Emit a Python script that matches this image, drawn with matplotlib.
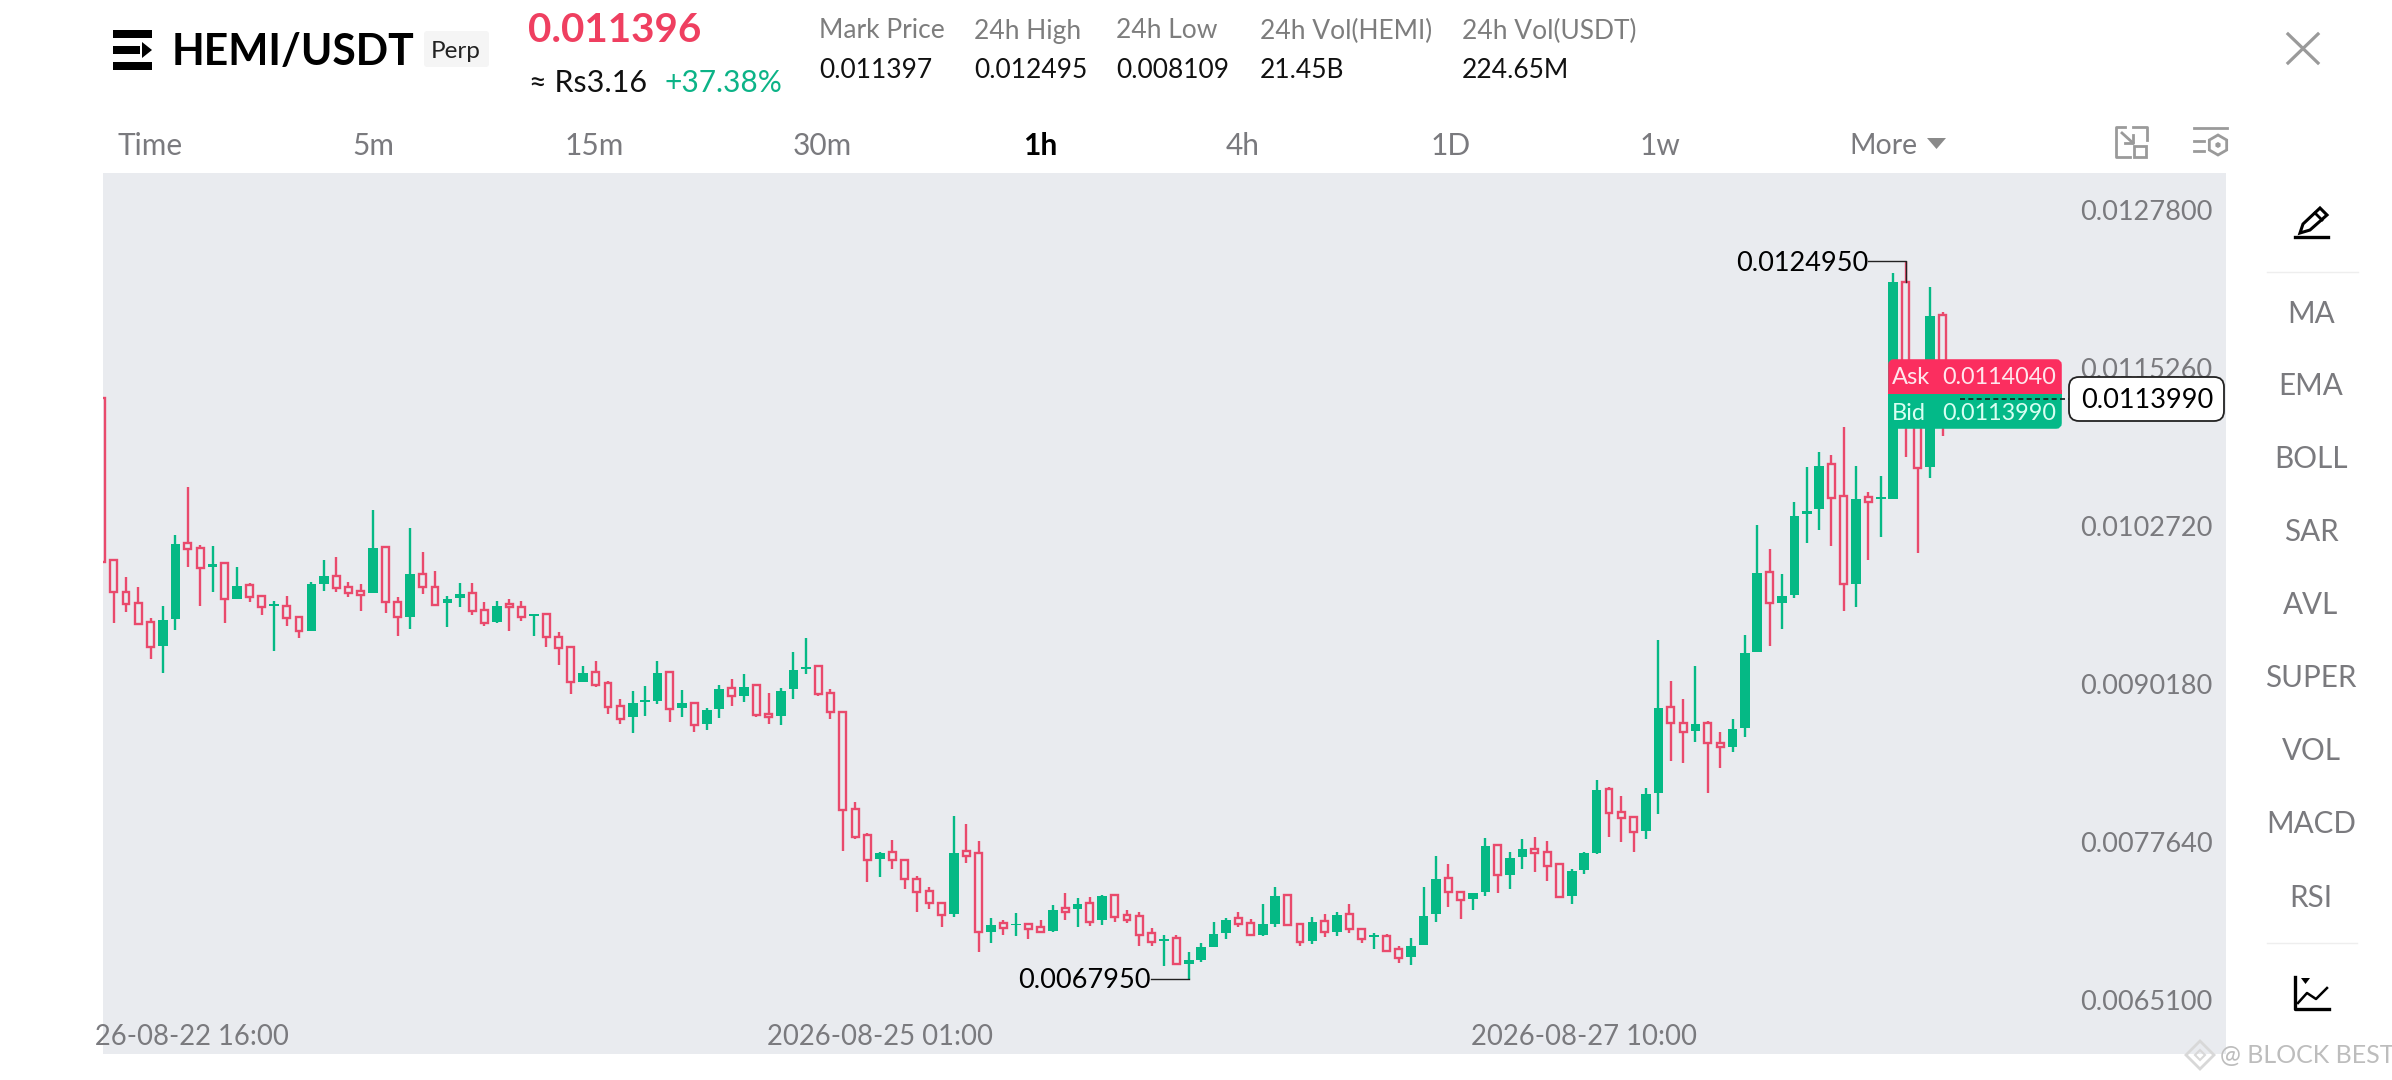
import numpy as np
import matplotlib
matplotlib.use("Agg")
import matplotlib.pyplot as plt
from matplotlib.patches import FancyBboxPatch, Polygon, Rectangle
from matplotlib.transforms import Bbox

plt.rcParams['font.family'] = ['Lato', 'DejaVu Sans']

# prices in units of 0.000001, one candle per hour
opens = [
    11404, 10121, 9864, 9777, 9631, 9441, 9653, 10253, 10213, 10063,
    10094, 9809, 9922, 9838, 9756, 9756, 9666, 9560, 9930, 9996,
    9904, 9872, 9856, 10221, 9790, 9666, 10010, 9909, 9777, 9817,
    9861, 9724, 9626, 9772, 9745, 9679, 9690, 9512, 9427, 9155,
    9232, 9147, 8962, 8872, 8996, 9004, 9234, 8943, 8988, 8816,
    8935, 9102, 9044, 9126, 8898, 8883, 9094, 9253, 9279, 9062,
    8917, 8142, 7936, 7745, 7801, 7740, 7592, 7497, 7401, 7311,
    7809, 7793, 7172, 7243, 7222, 7235, 7211, 7179, 7357, 7349,
    7399, 7264, 7460, 7304, 7296, 7158, 7097, 7119, 6918, 6947,
    7052, 7164, 7277, 7243, 7145, 7232, 7460, 7232, 7095, 7259,
    7172, 7309, 7195, 7132, 7140, 7034, 6973, 7066, 7309, 7595,
    7484, 7428, 7489, 7859, 7621, 7766, 7830, 7806, 7708, 7457,
    7661, 7793, 8303, 8121, 8078, 7970, 8269, 8957, 8830, 8766,
    8824, 8668, 8637, 8785, 9388, 10028, 9782, 9843, 10483, 10525,
    10880, 10628, 9930, 10618, 10607, 10604, 12329, 11450, 10856, 12065,
]
closes = [
    10107, 9864, 9772, 9613, 9433, 9645, 10248, 10208, 10055, 10086,
    9809, 9914, 9830, 9750, 9772, 9658, 9560, 9928, 9991, 9896,
    9861, 9846, 10216, 9785, 9666, 10007, 9904, 9766, 9809, 9854,
    9713, 9618, 9758, 9745, 9671, 9692, 9507, 9425, 9150, 9221,
    9129, 8957, 8859, 8988, 9009, 9226, 8938, 8983, 8811, 8930,
    9099, 9041, 9113, 8890, 8872, 9084, 9248, 9274, 9054, 8912,
    8137, 7920, 7740, 7793, 7740, 7586, 7489, 7396, 7303, 7793,
    7774, 7171, 7224, 7203, 7235, 7195, 7172, 7343, 7325, 7391,
    7251, 7455, 7291, 7264, 7142, 7087, 7111, 6912, 6944, 7047,
    7153, 7264, 7232, 7145, 7230, 7455, 7222, 7087, 7251, 7172,
    7304, 7190, 7116, 7145, 7021, 6965, 7058, 7298, 7589, 7484,
    7423, 7476, 7851, 7621, 7758, 7825, 7798, 7695, 7449, 7655,
    7793, 8293, 8110, 8071, 7965, 8261, 8949, 8824, 8758, 8816,
    8666, 8637, 8777, 9380, 10020, 9777, 9835, 10472, 10509, 10869,
    10615, 9930, 10607, 10583, 10618, 12329, 11258, 10848, 12059, 11399,
]
highs = [
    11404, 10121, 9988, 9909, 9658, 9758, 10316, 10697, 10240, 10232,
    10102, 10068, 9941, 9843, 9798, 9835, 9671, 9943, 10121, 10142,
    9943, 9930, 10517, 10226, 9824, 10372, 10187, 10036, 9838, 9936,
    9941, 9785, 9795, 9809, 9793, 9692, 9692, 9552, 9427, 9279,
    9322, 9160, 9015, 9084, 9123, 9322, 9234, 9089, 8991, 8943,
    9129, 9173, 9216, 9136, 9062, 9102, 9393, 9499, 9282, 9094,
    8917, 8203, 7951, 7806, 7899, 7745, 7616, 7523, 7404, 8089,
    8023, 7893, 7283, 7264, 7317, 7243, 7264, 7383, 7481, 7436,
    7449, 7462, 7462, 7343, 7330, 7203, 7145, 7145, 7008, 7084,
    7251, 7277, 7325, 7269, 7391, 7529, 7462, 7238, 7291, 7312,
    7330, 7388, 7203, 7164, 7150, 7060, 7124, 7529, 7775, 7708,
    7489, 7481, 7917, 7864, 7806, 7907, 7925, 7888, 7713, 7668,
    7801, 8375, 8322, 8250, 8084, 8311, 9486, 9160, 9017, 9279,
    8845, 8753, 8856, 9525, 10398, 10205, 10007, 10578, 10861, 10975,
    10954, 11178, 10866, 10657, 10790, 12395, 12495, 11600, 12289, 12091,
]
lows = [
    10107, 9618, 9711, 9605, 9335, 9221, 9565, 10063, 9758, 9864,
    9618, 9809, 9790, 9684, 9401, 9597, 9499, 9560, 9877, 9864,
    9830, 9719, 9856, 9703, 9518, 9573, 9851, 9756, 9592, 9750,
    9682, 9600, 9621, 9560, 9639, 9518, 9433, 9287, 9054, 9155,
    9115, 8898, 8819, 8745, 8883, 8978, 8838, 8872, 8758, 8771,
    8864, 8962, 8996, 8877, 8816, 8811, 9017, 9216, 9041, 8856,
    7814, 7904, 7568, 7608, 7668, 7507, 7330, 7348, 7211, 7285,
    7719, 7013, 7084, 7142, 7140, 7113, 7166, 7172, 7264, 7211,
    7219, 7224, 7251, 7238, 7058, 7060, 6902, 6907, 6795, 6933,
    7052, 7113, 7211, 7140, 7140, 7211, 7216, 7060, 7074, 7132,
    7140, 7158, 7084, 7034, 7008, 6920, 6907, 7066, 7251, 7370,
    7269, 7343, 7454, 7475, 7510, 7668, 7647, 7573, 7444, 7388,
    7626, 7785, 7925, 7885, 7806, 7904, 8105, 8525, 8507, 8679,
    8269, 8473, 8600, 8719, 9388, 9441, 9570, 9816, 10253, 10358,
    10234, 9716, 9750, 10120, 10306, 10604, 10940, 10179, 10768, 11107,
]

price_ticks = [12780, 11526, 10272, 9018, 7764, 6510]
price_labels = ['0.0127800', '0.0115260', '0.0102720', '0.0090180', '0.0077640', '0.0065100']
time_ticks = [6, 63, 120]
time_labels = ['2026-08-22 16:00', '2026-08-25 01:00', '2026-08-27 10:00']

periods = ['Time', '5m', '15m', '30m', '1h', '4h', '1D', '1w', 'More']
period_x = [150, 373, 594, 822, 1040, 1243, 1451, 1660, 1882]
stat_names = ['Mark Price', '24h High', '24h Low', '24h Vol(HEMI)', '24h Vol(USDT)']
stat_values = ['0.011397', '0.012495', '0.008109', '21.45B', '224.65M']
stat_x = [819, 974, 1116, 1260, 1462]
indicators = ['MA', 'EMA', 'BOLL', 'SAR', 'AVL', 'SUPER', 'VOL', 'MACD', 'RSI']
indicator_y = [311, 383, 456, 529, 602, 675, 748, 821, 895]

RED = '#e94a6c'
GREEN = '#05b985'
BG = '#e9ebef'
GRAY = '#7a7a7e'

opens = np.array(opens)
closes = np.array(closes)
highs = np.array(highs)
lows = np.array(lows)
x = np.arange(len(opens))
up = closes >= opens
body_top = np.maximum(opens, closes)
body_bot = np.minimum(opens, closes)

W, H = 2392, 1080
fig = plt.figure(figsize=(W / 100, H / 100), dpi=100, facecolor='white')

# price chart
left, right, top, bottom = 103, 2226, 172.7, 1054
ax = fig.add_axes([left / W, 1 - bottom / H, (right - left) / W, (bottom - top) / H], facecolor=BG)
ax.set_xlim((left - 101.3) / 12.358, (right - 101.3) / 12.358)
ax.set_ylim(14564 - 7.935 * bottom, 14564 - 7.935 * top)
for s in ax.spines.values():
    s.set_visible(False)

ax.vlines(x[up], body_top[up], highs[up], color=GREEN, lw=1.7)
ax.vlines(x[up], lows[up], body_bot[up], color=GREEN, lw=1.7)
ax.vlines(x[~up], body_top[~up], highs[~up], color=RED, lw=1.7)
ax.vlines(x[~up], lows[~up], body_bot[~up], color=RED, lw=1.7)
ax.bar(x[up], (body_top - body_bot)[up], bottom=body_bot[up], width=0.78, color=GREEN)
ax.bar(x[~up], (body_top - body_bot)[~up], bottom=body_bot[~up], width=0.56,
       facecolor=BG, edgecolor=RED, linewidth=1.7)

ax.yaxis.tick_right()
ax.set_yticks(price_ticks)
ax.set_yticklabels(price_labels, fontsize=19.5, color=GRAY, ha='right', va='bottom')
ax.tick_params(axis='y', length=0, pad=-9.9)
ax.set_xticks(time_ticks)
ax.set_xticklabels(time_labels, fontsize=19.8, color=GRAY, va='center')
ax.tick_params(axis='x', length=0, pad=-12)
for lab in ax.get_xticklabels():
    lab.set_clip_box(Bbox([[95, 0], [W, H]]))
    lab.set_clip_on(True)

# extreme price markers
imax = int(np.argmax(highs))
imin = int(np.argmin(lows))
ax.plot([imax - 3.05, imax, imax], [highs[imax], highs[imax], body_top[imax]], color='#222222', lw=1)
ax.annotate('0.%07d' % (highs[imax] * 10), (imax - 3.05, highs[imax]), xytext=(0, -2), textcoords='offset points',
            ha='right', va='center', fontsize=19.5, color='black')
ax.plot([imin - 3.05, imin], [lows[imin], lows[imin]], color='#222222', lw=1)
ax.annotate('0.%07d' % (lows[imin] * 10), (imin - 3.05, lows[imin]), xytext=(0, -1), textcoords='offset points',
            ha='right', va='center', fontsize=19.5, color='black')

# everything else is the app's chrome, drawn in pixel coordinates
ui = fig.add_axes([0, 0, 1, 1], facecolor='none')
ui.set_xlim(0, W)
ui.set_ylim(H, 0)
ui.axis('off')


def label(px, py, s, size=17, color='black', ha='left', weight='normal', **kw):
    ui.text(px, py + 3, s, fontsize=size, color=color, ha=ha, va='center', fontweight=weight, **kw)


# ask / bid tags
ui.add_patch(FancyBboxPatch((1891, 362), 168, 32, boxstyle='round,pad=0,rounding_size=3', fc='#fb2e5f', ec='#fb2e5f', lw=4))
ui.add_patch(FancyBboxPatch((1891, 394), 168, 32, boxstyle='round,pad=0,rounding_size=3', fc='#03b988', ec='#03b988', lw=4))
ui.add_patch(Rectangle((1888, 390), 174, 6, fc='#fb2e5f', lw=0))
ui.add_patch(Rectangle((1888, 394), 174, 6, fc='#03b988', lw=0))
label(1892, 375, 'Ask', 17, '#ffe6ec')
label(2056, 375, '0.0114040', 16.8, '#ffe6ec', ha='right')
label(1892, 410, 'Bid', 17, '#d8fff2')
label(2056, 410, '0.0113990', 16.8, '#d8fff2', ha='right')
ui.plot([1960, 2069], [399, 399], color='#10211b', lw=1.2, ls=(0, (3, 2)))
ui.add_patch(FancyBboxPatch((2069, 377), 155, 44, boxstyle='round,pad=0,rounding_size=10', fc='white', ec='#222222', lw=1.3))
label(2147, 397, '0.0113990', 19.5, 'black', ha='center')

# header
ui.add_patch(Rectangle((113, 30), 39, 7.5, fc='black', lw=0))
ui.add_patch(Rectangle((113, 45.5), 27, 8.5, fc='black', lw=0))
ui.add_patch(Polygon([(142, 42), (152, 50), (142, 58)], fc='black', lw=0))
ui.add_patch(Rectangle((113, 62), 39, 7.5, fc='black', lw=0))
label(172, 49, 'HEMI/USDT', 30.7, 'black', weight='bold')
ui.add_patch(FancyBboxPatch((424, 31), 65, 36, boxstyle='round,pad=0,rounding_size=3', fc='#f5f5f5', ec='none'))
label(456, 48, 'Perp', 17.5, '#222222', ha='center')
label(528, 27, '0.011396', 29, '#ef3f60', weight='bold')
label(529, 80, '≈ Rs3.16', 22, '#111111')
label(664, 80, '+37.38%', 21.5, '#0cb387')
for sx, name, val in zip(stat_x, stat_names, stat_values):
    label(sx, 28, name, 19, '#7d7d7d')
    label(sx, 67, val, 19, '#111111')

for px, name in zip(period_x, periods):
    if name == '1h':
        label(px, 143, name, 21.5, 'black', ha='center', weight='bold')
    elif name == 'More':
        label(1849, 143, name, 20.5, GRAY)
    else:
        label(px, 143, name, 21.5, GRAY, ha='center')
ui.add_patch(Polygon([(1927, 138), (1946, 138), (1936.5, 149)], fc='#8a8a8a', lw=0))

# close cross
ui.plot([2288, 2318], [34, 63], color='#9a9a9a', lw=2.3)
ui.plot([2288, 2318], [63, 34], color='#9a9a9a', lw=2.3)

# layout and settings icons
ui.plot([2133, 2147, 2147, 2147], [127, 127, 140, 140], color='#9a9a9a', lw=2)
ui.plot([2125, 2116, 2116, 2130], [127, 127, 157, 157], color='#9a9a9a', lw=2)
ui.add_patch(Rectangle((2134, 146), 12, 11, fc='none', ec='#9a9a9a', lw=2))
ui.plot([2122, 2133], [133, 143], color='#9a9a9a', lw=2)
ui.plot([2125, 2133, 2133], [143, 143, 135], color='#9a9a9a', lw=2)
ui.plot([2194, 2227], [128, 128], color='#9a9a9a', lw=2)
ui.plot([2194, 2204], [141, 141], color='#9a9a9a', lw=2)
ui.plot([2194, 2204], [151, 151], color='#9a9a9a', lw=2)
ang = np.deg2rad(np.arange(30, 390, 60))
ui.add_patch(Polygon(np.c_[2218 + 10 * np.cos(ang), 145 + 10 * np.sin(ang)], fc='none', ec='#9a9a9a', lw=2))
ui.add_patch(Polygon(np.c_[2218 + 3 * np.cos(ang), 145 + 3 * np.sin(ang)], fc='#9a9a9a', lw=0))

# side toolbar
ui.add_patch(Polygon([(2300, 233), (2303, 224), (2320, 208), (2327, 215), (2310, 230)], fc='none', ec='black', lw=2.2))
ui.plot([2315, 2322], [213, 220], color='black', lw=2)
ui.plot([2295, 2328], [237, 237], color='black', lw=2.4)
ui.plot([2267, 2358], [272, 272], color='#eeeeee', lw=1)
for py, name in zip(indicator_y, indicators):
    label(2311, py, name, 21.3, GRAY, ha='center')
ui.plot([2267, 2357], [943, 943], color='#eeeeee', lw=1)
ui.plot([2295, 2295, 2329], [977, 1009, 1009], color='black', lw=2.4)
ui.add_patch(Polygon([(2301, 978), (2310, 978), (2305.5, 984)], fc='black', lw=0))
ui.plot([2298, 2307, 2316, 2327], [1003, 993, 999, 988], color='black', lw=1.8)

# watermark
ui.add_patch(Polygon([(2200, 1041), (2214, 1055), (2200, 1069), (2186, 1055)], fc='none', ec='#d8d8d8', lw=2))
ui.add_patch(Polygon([(2200, 1050), (2205, 1055), (2200, 1060), (2195, 1055)], fc='none', ec='#d8d8d8', lw=1.5))
label(2220, 1052, '@ BLOCK BEST', 18, '#bdbdbd')

fig.savefig('out.png', dpi=100)
